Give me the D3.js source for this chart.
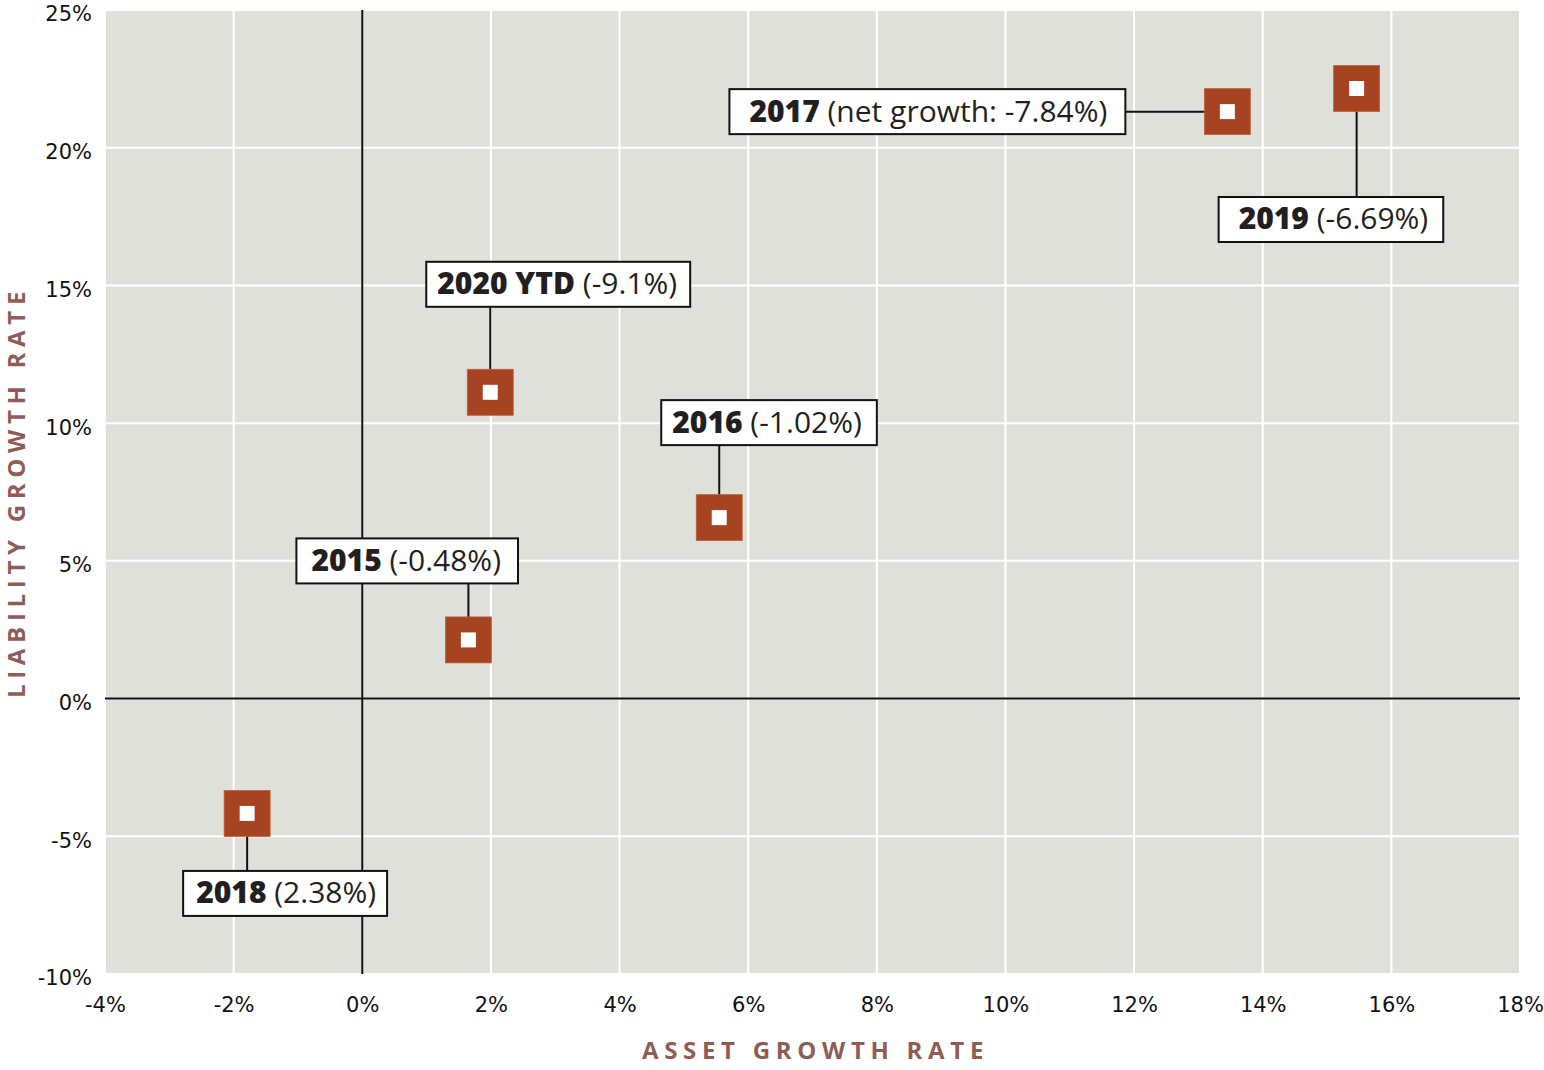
<!DOCTYPE html>
<html>
<head>
<meta charset="utf-8">
<script src="https://cdn.jsdelivr.net/npm/d3@7"></script>
<style>
  body { margin: 0; background: #fff; }
  .tick text { font-family: "DejaVu Sans", sans-serif; font-size: 21px; fill: #111; }
  .axis-title { font-family: "Open Sans", sans-serif; font-weight: 700; font-size: 24px; fill: #8e5d55; letter-spacing: 5.7px; }
  .label text { font-family: "Open Sans", sans-serif; font-size: 30px; fill: #231f20; }
</style>
</head>
<body>
<svg id="chart"></svg>
<script>
// data
const years = ["2015", "2016", "2017", "2018", "2019", "2020 YTD"];
const assetGrowth = [1.65, 5.55, 13.45, -1.79, 15.46, 1.99];
const liabilityGrowth = [2.13, 6.57, 21.31, -4.17, 22.15, 11.12];
const netGrowth = [-0.48, -1.02, -7.84, 2.38, -6.69, -9.1];
const xTicks = [-4, -2, 0, 2, 4, 6, 8, 10, 12, 14, 16, 18];
const yTicks = [-10, -5, 0, 5, 10, 15, 20, 25];

// where each call-out box sits relative to its marker (layout only)
const labelPlacement = {
  "2015": {dir: "v", dx: -172, dy: -79, padL: 15, padR: 17},
  "2016": {dir: "v", dx: -58, dy: -95, padL: 11, padR: 15},
  "2017": {dir: "h", dx: -102, dy: 0, padL: 20, padR: 18},
  "2018": {dir: "v", dx: -64, dy: 80, padL: 13, padR: 11},
  "2019": {dir: "v", dx: -138, dy: 131, padL: 20, padR: 15},
  "2020 YTD": {dir: "v", dx: -64, dy: -108, padL: 11, padR: 13}
};

const width = 1544, height = 1070;
const margin = {top: 10, right: 24, bottom: 96, left: 105};
const innerW = width - margin.left - margin.right;
const innerH = height - margin.top - margin.bottom;

const svg = d3.select("#chart").attr("width", width).attr("height", height);
const chart = svg.append("g").attr("transform", `translate(${margin.left},${margin.top})`);

const xScale = d3.scaleLinear().domain([-4, 18]).range([0, innerW]);
const yScale = d3.scaleLinear().domain([-10, 25]).range([innerH, 0]);

chart.append("rect")
    .attr("width", innerW).attr("height", innerH)
    .attr("fill", "#e0e0db");

// grid
chart.append("g").selectAll("line").data(xTicks).join("line")
    .attr("x1", d => xScale(d)).attr("x2", d => xScale(d))
    .attr("y1", 0).attr("y2", innerH)
    .attr("stroke", "#fff").attr("stroke-width", 2);
chart.append("g").selectAll("line").data(yTicks).join("line")
    .attr("y1", d => yScale(d)).attr("y2", d => yScale(d))
    .attr("x1", 0).attr("x2", innerW)
    .attr("stroke", "#fff").attr("stroke-width", 2);

// zero lines
chart.append("line")
    .attr("x1", xScale(0)).attr("x2", xScale(0)).attr("y1", 0).attr("y2", innerH)
    .attr("stroke", "#111").attr("stroke-width", 2);
chart.append("line")
    .attr("y1", yScale(0)).attr("y2", yScale(0)).attr("x1", 0).attr("x2", innerW)
    .attr("stroke", "#111").attr("stroke-width", 2);

// axes
const xAxis = d3.axisBottom(xScale).tickValues(xTicks).tickSize(0).tickPadding(23).tickFormat(d => d + "%");
const yAxis = d3.axisLeft(yScale).tickValues(yTicks).tickSize(0).tickPadding(13).tickFormat(d => d + "%");

chart.append("g").attr("class", "axis x-axis")
    .attr("transform", `translate(0,${innerH})`)
    .call(xAxis)
    .call(g => g.select(".domain").remove());

chart.append("g").attr("class", "axis y-axis")
    .call(yAxis)
    .call(g => g.select(".domain").remove())
    .call(g => g.selectAll("text").attr("dy", "0.52em"));

svg.append("text").attr("class", "axis-title")
    .attr("x", margin.left + innerW / 2 + 3).attr("y", 1059)
    .attr("text-anchor", "middle")
    .text("ASSET GROWTH RATE");

svg.append("text").attr("class", "axis-title")
    .attr("transform", `translate(25,${margin.top + innerH / 2}) rotate(-90)`)
    .attr("text-anchor", "middle")
    .text("LIABILITY GROWTH RATE");

const points = years.map((y, i) => ({
  year: y, x: assetGrowth[i], y: liabilityGrowth[i], net: netGrowth[i]
}));

const boxH = 45, markerSize = 46, innerSize = 15;

// leaders first so boxes and markers cover them
const leaders = chart.append("g");
const markers = chart.append("g");
const labels = chart.append("g");

points.forEach(p => {
  const px = xScale(p.x), py = yScale(p.y);
  const place = labelPlacement[p.year];

  const g = labels.append("g").attr("class", "label");
  const rect = g.append("rect").attr("fill", "#fff").attr("stroke", "#111").attr("stroke-width", 2);
  const txt = g.append("text");
  txt.append("tspan").attr("font-weight", 800).text(p.year);
  txt.append("tspan").text(p.year === "2017" ? ` (net growth: ${p.net}%)` : ` (${p.net}%)`);
  const tw = txt.node().getComputedTextLength();
  const bw = tw + place.padL + place.padR;

  let bx, by;
  if (place.dir === "h") {
    bx = px + place.dx - bw;
    by = py + place.dy - boxH / 2;
    leaders.append("line")
        .attr("x1", bx + bw).attr("x2", px).attr("y1", py).attr("y2", py)
        .attr("stroke", "#111").attr("stroke-width", 2);
  } else {
    bx = px + place.dx;
    by = py + place.dy - boxH / 2;
    leaders.append("line")
        .attr("x1", px).attr("x2", px).attr("y1", py).attr("y2", place.dy < 0 ? by + boxH : by)
        .attr("stroke", "#111").attr("stroke-width", 2);
  }
  rect.attr("x", bx).attr("y", by).attr("width", bw).attr("height", boxH);
  txt.attr("x", bx + place.padL).attr("y", by + boxH / 2 + 10);

  markers.append("rect")
      .attr("x", px - markerSize / 2).attr("y", py - markerSize / 2)
      .attr("width", markerSize).attr("height", markerSize)
      .attr("fill", "#a64422").attr("stroke", "#c0623f").attr("stroke-width", 0.8);
  markers.append("rect")
      .attr("x", px - innerSize / 2).attr("y", py - innerSize / 2)
      .attr("width", innerSize).attr("height", innerSize)
      .attr("fill", "#fff");
});
</script>
</body>
</html>
